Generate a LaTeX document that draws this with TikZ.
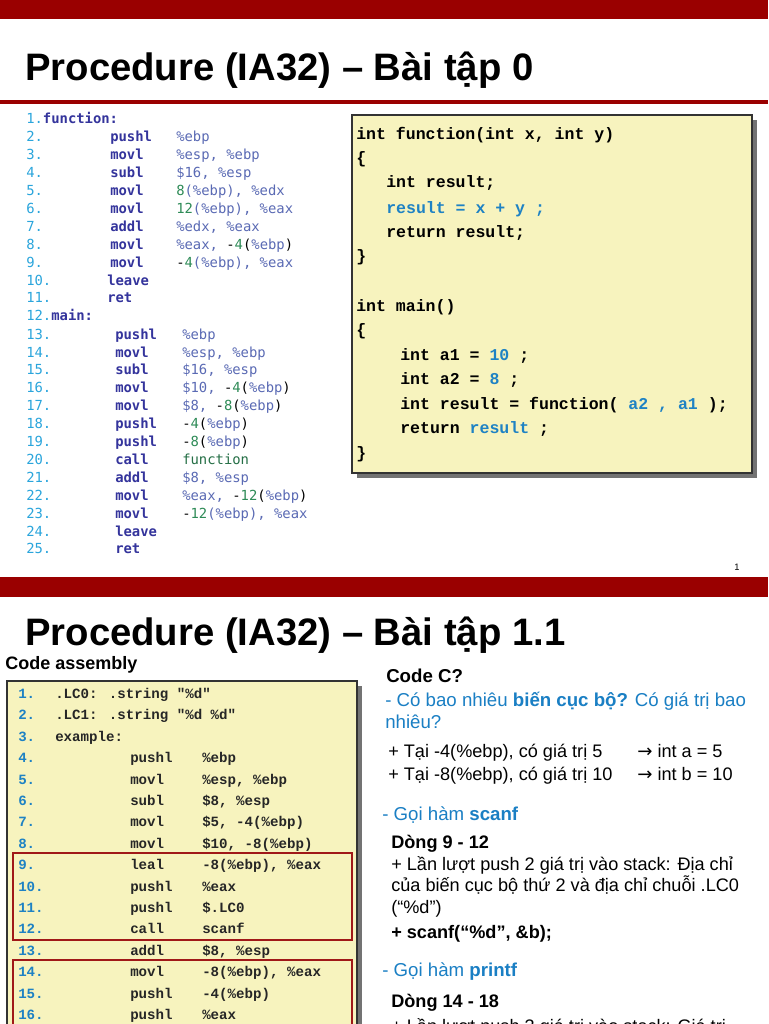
\documentclass[tikz,border=0pt]{standalone}
\usepackage{fontspec}
\setmainfont{Liberation Sans}
\newfontfamily\cons{DejaVu Sans Mono}
\newfontfamily\cour{Liberation Mono}
\newfontfamily\djv{DejaVu Sans}
\definecolor{barred}{HTML}{9A0000}
\definecolor{boxy}{HTML}{F7F3BE}
\definecolor{lnum}{HTML}{2AA5DC}
\definecolor{mnem}{HTML}{34349C}
\definecolor{regc}{HTML}{5A6AB4}
\definecolor{grn}{HTML}{2E8B57}
\definecolor{cblue}{HTML}{1E82C4}
\definecolor{tblue}{HTML}{1A7FC4}
\definecolor{frame}{HTML}{A01818}
\newcommand{\Rg}[1]{\textcolor{regc}{#1}}
\newcommand{\Gn}[1]{\textcolor{grn}{#1}}
\newcommand{\Cb}[1]{\textcolor{cblue}{#1}}
\tikzset{
 x=0.75pt,y=-0.75pt,
 ttl/.style={anchor=base west,inner sep=0,font=\fontsize{28.7}{29}\selectfont\bfseries},
 ln/.style={anchor=base west,yshift=-3.3pt,inner sep=0,text=lnum,font=\cons\fontsize{10.4}{10}\selectfont},
 mn/.style={anchor=base west,yshift=-3.3pt,inner sep=0,text=mnem,font=\cons\bfseries\fontsize{10.4}{10}\selectfont},
 op/.style={anchor=base west,yshift=-3.3pt,inner sep=0,text=regc,font=\cons\fontsize{10.4}{10}\selectfont},
 cc/.style={anchor=base west,yshift=-3.8pt,inner sep=0,font=\cour\bfseries\fontsize{12.4}{12}\selectfont},
 bn/.style={anchor=base west,yshift=-3.3pt,inner sep=0,text=cblue,font=\cour\bfseries\fontsize{10.6}{10}\selectfont},
 bc/.style={anchor=base west,yshift=-3.3pt,inner sep=0,text=black!85,font=\cour\bfseries\fontsize{10.6}{10}\selectfont},
 tx/.style={anchor=base west,yshift=-4.2pt,inner sep=0,font=\fontsize{13.6}{13}\selectfont},
 bt/.style={anchor=base west,yshift=-4.4pt,inner sep=0,text=tblue,font=\fontsize{14}{14}\selectfont},
 shbox/.style={fill=boxy,draw=black!80,line width=0.8pt},
 shad/.style={fill=black!55},
 redframe/.style={draw=frame,line width=1.1pt}
}
\begin{document}
\begin{tikzpicture}
\useasboundingbox (0,0) rectangle (768,1024);
\clip (0,0) rectangle (768,1024);
\fill[white] (0,0) rectangle (768,1024);
% slide 1
\fill[barred] (0,0) rectangle (768,19);
\node[ttl] (t1) at (25,80) {Procedure (IA32) – Bài tập 0};
\fill[barred] (0,100) rectangle (768,104);
% left listing
\node[ln] (l1) at (26,119) {1.\textcolor{mnem}{\bfseries function:}};
\foreach \n/\y/\m/\mx/\o/\ox in {
 2/137/pushl/110/{\Rg{\%ebp}}/176,
 3/155/movl/110/{\Rg{\%esp, \%ebp}}/176,
 4/173/subl/110/{\Rg{\$16, \%esp}}/176,
 5/191/movl/110/{\Gn{8}\Rg{(\%ebp), \%edx}}/176,
 6/209/movl/110/{\Gn{12}\Rg{(\%ebp), \%eax}}/176,
 7/227/addl/110/{\Rg{\%edx, \%eax}}/176,
 8/245/movl/110/{\Rg{\%eax, }\textcolor{black}{-}\Gn{4}\textcolor{black}{(}\Rg{\%ebp}\textcolor{black}{)}}/176,
 9/263/movl/110/{\textcolor{black}{-}\Gn{4}\Rg{(\%ebp), \%eax}}/176,
 10/281/leave/107/{}/176,
 11/298/ret/107/{}/176,
 13/335/pushl/115/{\Rg{\%ebp}}/182,
 14/353/movl/115/{\Rg{\%esp, \%ebp}}/182,
 15/370/subl/115/{\Rg{\$16, \%esp}}/182,
 16/388/movl/115/{\Rg{\$10, }\textcolor{black}{-}\Gn{4}\textcolor{black}{(}\Rg{\%ebp}\textcolor{black}{)}}/182,
 17/406/movl/115/{\Rg{\$8, }\textcolor{black}{-}\Gn{8}\textcolor{black}{(}\Rg{\%ebp}\textcolor{black}{)}}/182,
 18/424/pushl/115/{\textcolor{black}{-}\Gn{4}\textcolor{black}{(}\Rg{\%ebp}\textcolor{black}{)}}/182,
 19/442/pushl/115/{\textcolor{black}{-}\Gn{8}\textcolor{black}{(}\Rg{\%ebp}\textcolor{black}{)}}/182,
 20/460/call/115/{\textcolor{grn!80!black}{function}}/182,
 21/478/addl/115/{\Rg{\$8, \%esp}}/182,
 22/496/movl/115/{\Rg{\%eax, }\textcolor{black}{-}\Gn{12}\textcolor{black}{(}\Rg{\%ebp}\textcolor{black}{)}}/182,
 23/514/movl/115/{\textcolor{black}{-}\Gn{12}\Rg{(\%ebp), \%eax}}/182,
 24/532/leave/115/{}/182,
 25/549/ret/115/{}/182}{
 \node[ln] (n\n) at (26,\y) {\n.};
 \node[mn] (m\n) at (\mx,\y) {\m};
 \node[op] (o\n) at (\ox,\y) {\o};
}
\node[ln] (l12) at (26,316) {12.\textcolor{mnem}{\bfseries main:}};
% C box
\fill[shad] (357,120) rectangle (757,478);
\draw[shbox] (352,115) rectangle (752,473);
\node[cc] (c1) at (356,134) {int function(int x, int y)};
\node[cc] (c2) at (356,158) {\{};
\node[cc] (c3) at (386,182) {int result;};
\node[cc,text=cblue] (c4) at (386,208) {result = x + y ;};
\node[cc] (c5) at (386,232) {return result;};
\node[cc] (c6) at (356,256) {\}};
\node[cc] (c7) at (356,306) {int main()};
\node[cc] (c8) at (356,330) {\{};
\node[cc] (c9) at (400,355) {int a1 = \Cb{10} ;};
\node[cc] (c10) at (400,379) {int a2 =  \Cb{8} ;};
\node[cc] (c11) at (400,404) {int result = function( \Cb{a2 , a1} );};
\node[cc] (c12) at (400,428) {return  \Cb{result}  ;};
\node[cc] (c13) at (356,453) {\}};
\node[anchor=center,inner sep=0,font=\fontsize{7}{7}\selectfont] (pg) at (737,567) {1};
% slide 2
\fill[barred] (0,577) rectangle (768,597);
\node[ttl] (t2) at (25,645) {Procedure (IA32) – Bài tập 1.1};
\node[anchor=base west,yshift=-4.5pt,inner sep=0,font=\fontsize{13.5}{13}\selectfont\bfseries] (ca) at (5,663) {Code assembly};
\fill[shad] (12,686) rectangle (362,1030);
\draw[shbox] (7,681) rectangle (357,1030);
\foreach \n/\y/\lab/\m/\o in {
 1/694/{.LC0: .string "\%d"}//,
 2/715/{.LC1: .string "\%d \%d"}//,
 3/737/{example:}//,
 4/758//pushl/\%ebp,
 5/780//movl/{\%esp, \%ebp},
 6/801//subl/{\$8, \%esp},
 7/822//movl/{\$5, -4(\%ebp)},
 8/844//movl/{\$10, -8(\%ebp)},
 9/865//leal/{-8(\%ebp), \%eax},
 10/887//pushl/\%eax,
 11/908//pushl/\$.LC0,
 12/929//call/scanf,
 13/951//addl/{\$8, \%esp},
 14/972//movl/{-8(\%ebp), \%eax},
 15/994//pushl/-4(\%ebp),
 16/1015//pushl/\%eax}{
 \node[bn] (b\n) at (18,\y) {\n.};
 \node[bc] (bl\n) at (55,\y) {\lab};
 \node[bc] (bm\n) at (130,\y) {\m};
 \node[bc] (bo\n) at (202,\y) {\o};
}
\draw[redframe] (13,853) rectangle (352,940);
\draw[redframe] (13,960) rectangle (352,1040);
% right text
\node[anchor=base west,yshift=-4.5pt,inner sep=0,font=\fontsize{14}{14}\selectfont\bfseries] (cq) at (386,676) {Code C?};
\node[bt] (q1) at (385,701) {- Có bao nhiêu \textbf{biến cục bộ?} Có giá trị bao};
\node[bt] (q2) at (385,723) {nhiêu?};
\node[tx] (v1) at (388,752) {+ Tại -4(\%ebp), có giá trị 5};
\node[tx] (v1b) at (637,752) {{\djv →} int a = 5};
\node[tx] (v2) at (388,775) {+ Tại -8(\%ebp), có giá trị 10};
\node[tx] (v2b) at (637,775) {{\djv →} int b = 10};
\node[bt] (s1) at (382,815) {- Gọi hàm \textbf{scanf}};
\node[tx,font=\fontsize{13.6}{13}\selectfont\bfseries] (d1) at (391,843) {Dòng 9 - 12};
\node[tx] (d2) at (391,865) {+ Lần lượt push 2 giá trị vào stack: Địa chỉ};
\node[tx] (d3) at (391,886) {của biến cục bộ thứ 2 và địa chỉ chuỗi .LC0};
\node[tx] (d4) at (391,908) {(“\%d”)};
\node[tx,font=\fontsize{13.6}{13}\selectfont\bfseries] (d5) at (391,933) {+ scanf(“\%d”, \&b);};
\node[bt] (p1) at (382,971) {- Gọi hàm \textbf{printf}};
\node[tx,font=\fontsize{13.6}{13}\selectfont\bfseries] (e1) at (391,1002) {Dòng 14 - 18};
\node[tx] (e2) at (391,1027) {+ Lần lượt push 3 giá trị vào stack: Giá trị};
\end{tikzpicture}
\end{document}
